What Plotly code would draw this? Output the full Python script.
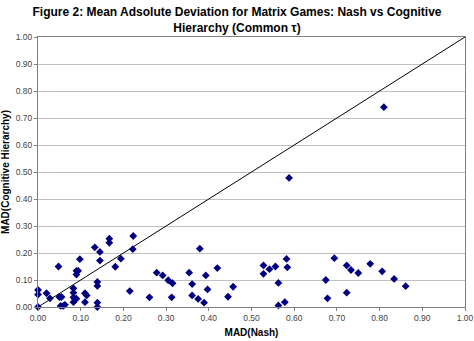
import plotly.graph_objects as go

nash = [0.0, 0.0, 0.0, 0.02, 0.028, 0.048, 0.05, 0.055, 0.053, 0.059, 0.063,
        0.083, 0.083, 0.083, 0.083, 0.087, 0.09, 0.09, 0.094, 0.09, 0.098,
        0.11, 0.114, 0.11, 0.133, 0.145, 0.145, 0.139, 0.139, 0.139, 0.139,
        0.167, 0.167, 0.181, 0.194, 0.215, 0.223, 0.222, 0.261, 0.278, 0.292,
        0.305, 0.315, 0.313,
        0.379, 0.354, 0.361, 0.361, 0.375, 0.389, 0.393, 0.397, 0.42, 0.445,
        0.457, 0.528, 0.528, 0.542, 0.556, 0.582, 0.584, 0.563, 0.563, 0.578,
        0.694, 0.674, 0.678, 0.723, 0.733, 0.75, 0.723, 0.778, 0.806, 0.834,
        0.861, 0.81, 0.588]
ch = [0.063, 0.046, 0.0, 0.051, 0.032, 0.15, 0.037, 0.037, 0.004, 0.004, 0.008,
      0.069, 0.053, 0.036, 0.018, 0.028, 0.031, 0.134, 0.134, 0.12, 0.177,
      0.051, 0.043, 0.018, 0.221, 0.204, 0.172, 0.093, 0.078, 0.016, 0.0,
      0.253, 0.238, 0.149, 0.179, 0.059, 0.263, 0.214, 0.036, 0.127, 0.117,
      0.099, 0.088, 0.036,
      0.216, 0.127, 0.085, 0.043, 0.03, 0.016, 0.117, 0.065, 0.144, 0.038,
      0.075, 0.154, 0.123, 0.14, 0.15, 0.178, 0.147, 0.089, 0.006, 0.018,
      0.181, 0.1, 0.032, 0.154, 0.137, 0.126, 0.053, 0.16, 0.132, 0.104,
      0.077, 0.74, 0.478]

diag_x = [0.0, 1.0]
diag_y = [0.0, 1.0]

tick_vals = [0.0, 0.1, 0.2, 0.3, 0.4, 0.5, 0.6, 0.7, 0.8, 0.9, 1.0]
tick_text = ["0.00", "0.10", "0.20", "0.30", "0.40", "0.50", "0.60", "0.70", "0.80", "0.90", "1.00"]

fig = go.Figure()
fig.add_trace(go.Scatter(x=diag_x, y=diag_y, mode="lines",
                         line=dict(color="black", width=1), hoverinfo="skip"))
fig.add_trace(go.Scatter(x=nash, y=ch, mode="markers", cliponaxis=False,
                         marker=dict(symbol="diamond", size=6, color="#000080")))

font = "Liberation Sans, Arial, sans-serif"
fig.update_layout(
    width=474, height=341,
    margin=dict(l=38, r=9, t=37, b=34),
    paper_bgcolor="white", plot_bgcolor="white",
    showlegend=False,
    font=dict(family=font, size=9, color="#333333"),
    title=dict(text="<b>Figure 2: Mean Adsolute Deviation for Matrix Games: Nash vs Cognitive<br>Hierarchy (Common τ)</b>",
               x=0.5, xanchor="center", xref="container",
               y=1 - 16 / 341, yanchor="middle", yref="container",
               font=dict(family=font, size=12, color="black")),
    xaxis=dict(range=[0, 1], tickvals=tick_vals, ticktext=tick_text, automargin=False,
               showgrid=False, zeroline=False, showline=True, linecolor="#808080",
               linewidth=1, mirror=True, ticks="outside", ticklen=3, tickcolor="#808080",
               tickfont=dict(size=8.5, color="#444444"),
               title=dict(text="<b>MAD(Nash)</b>", standoff=6,
                          font=dict(family=font, size=10, color="black"))),
    yaxis=dict(range=[0, 1], tickvals=tick_vals, ticktext=tick_text, automargin=False,
               showgrid=True, gridcolor="#c0c0c0", gridwidth=1, zeroline=False,
               showline=True, linecolor="#808080", linewidth=1, mirror=True,
               ticks="outside", ticklen=3, tickcolor="#808080",
               tickfont=dict(size=8.5, color="#444444"),
               title=dict(text="<b>MAD(Cognitive Hierarchy)</b>", standoff=4,
                          font=dict(family=font, size=10, color="black"))),
)

fig.write_html("out.html")
